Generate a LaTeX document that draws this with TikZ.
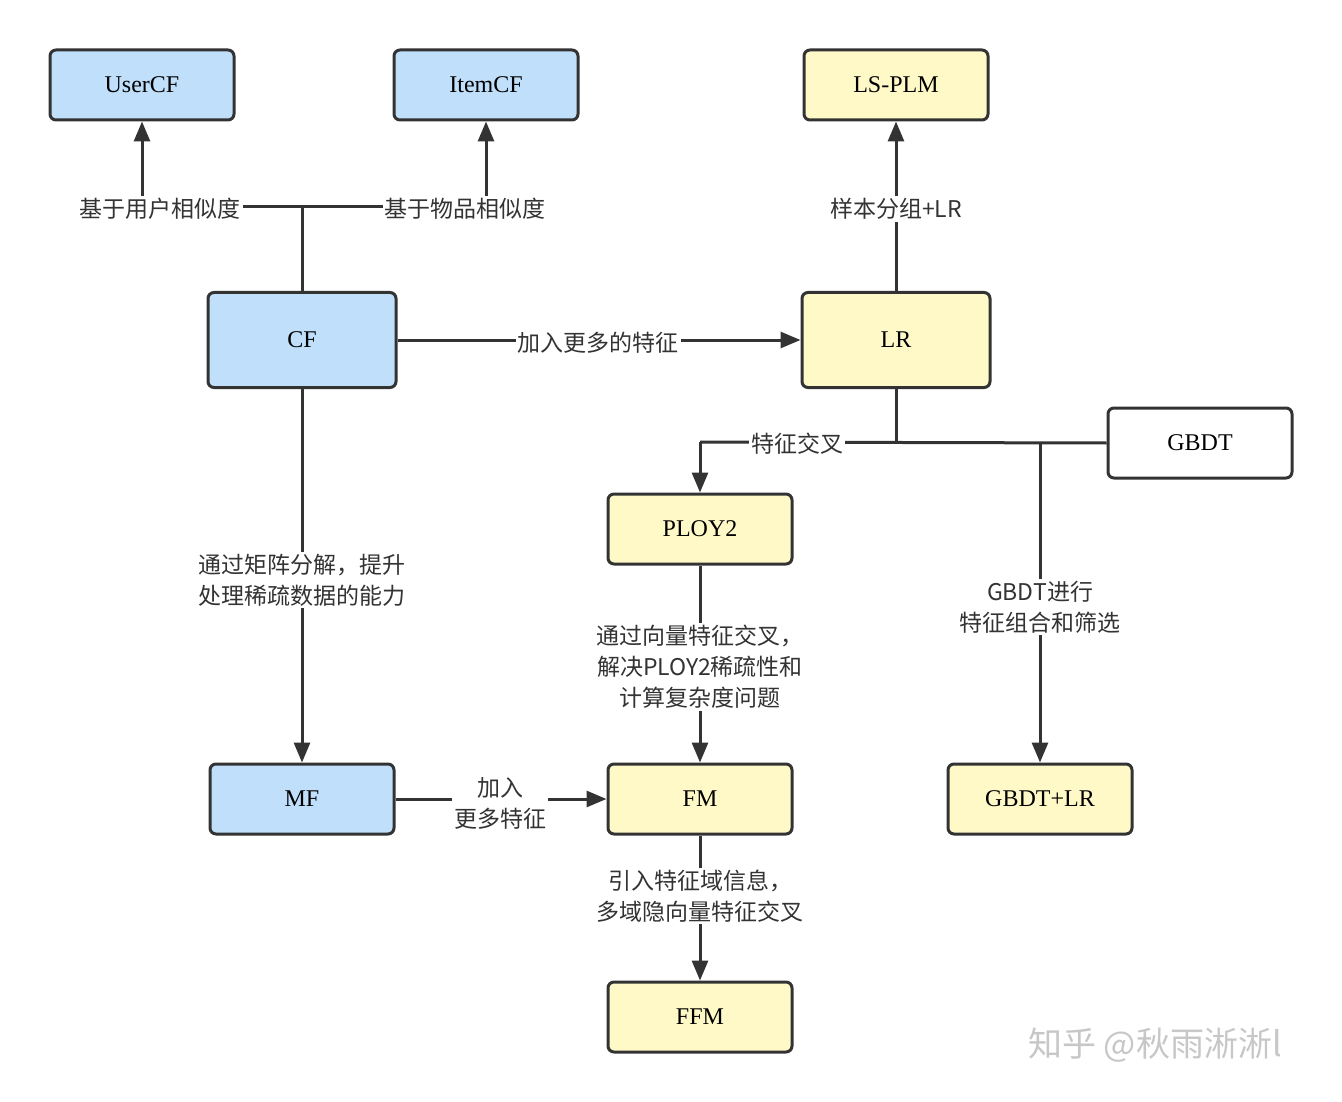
\documentclass[tikz,border=0pt]{standalone}
\usepackage{fontspec}
\setmainfont{Liberation Serif}
\newfontfamily\cjk{Noto Sans CJK SC}
\usetikzlibrary{arrows.meta}
\definecolor{bl}{RGB}{191,223,250}
\definecolor{yl}{RGB}{255,249,199}
\definecolor{ln}{RGB}{51,51,51}
\begin{document}
\begin{tikzpicture}[x=1pt,y=-1pt,
 box/.style={draw=ln,line width=3pt,rounded corners=6pt,minimum width=184pt,minimum height=70pt,font=\fontsize{24}{28}\selectfont,inner sep=0pt},
 big/.style={box,minimum width=188pt,minimum height=95pt},
 lab/.style={fill=white,font=\cjk\fontsize{23}{31}\selectfont,text=ln,align=center,inner sep=2pt},
 ar/.style={draw=ln,line width=3pt,-{Triangle[length=20pt,width=16pt]}},
 li/.style={draw=ln,line width=3pt}]
\useasboundingbox (0,0) rectangle (1342,1102);
\fill[white] (0,0) rectangle (1342,1102);
\node[box,fill=bl] (ucf) at (142,85) {UserCF};
\node[box,fill=bl] (icf) at (486,85) {ItemCF};
\node[box,fill=yl] (ls) at (896,85) {LS-PLM};
\node[big,fill=bl] (cf) at (302,340) {CF};
\node[big,fill=yl] (lr) at (896,340) {LR};
\node[box,fill=white] (gbdt) at (1200,443) {GBDT};
\node[box,fill=yl] (ploy) at (700,529) {PLOY2};
\node[box,fill=bl] (mf) at (302,799) {MF};
\node[box,fill=yl] (fm) at (700,799) {FM};
\node[box,fill=yl] (gl) at (1040,799) {GBDT+LR};
\node[box,fill=yl] (ffm) at (700,1017) {FFM};
\coordinate (j1) at (302,207);
\coordinate (jl) at (142,207);
\coordinate (jr) at (486,207);
\coordinate (j2) at (896,442);
\coordinate (jp) at (700,442);
\coordinate (jg) at (1040,442);
\path[li] (cf.north) -- (j1);
\path[li] (jl) -- (jr);
\path[ar] (jl) -- (ucf.south);
\path[ar] (jr) -- (icf.south);
\node[lab] at (160,209) {基于用户相似度};
\node[lab] at (465,209) {基于物品相似度};
\path[ar] (lr.north) -- (ls.south);
\node[lab] at (896,209) {样本分组+LR};
\path[ar] (cf.east) -- (lr.west);
\node[lab] at (598,343) {加入更多的特征};
\path[li] (lr.south) -- (j2);
\path[li] (jp) -- (gbdt.west);
\path[ar] (jp) -- (ploy.north);
\path[ar] (jg) -- (gl.north);
\node[lab] at (797,444) {特征交叉};
\node[lab] at (1040,607) {GBDT进行\\特征组合和筛选};
\path[ar] (cf.south) -- (mf.north);
\node[lab] at (302,580) {通过矩阵分解，提升\\处理稀疏数据的能力};
\path[ar] (ploy.south) -- (fm.north);
\node[lab] at (700,667) {通过向量特征交叉，\\解决PLOY2稀疏性和\\计算复杂度问题};
\path[ar] (mf.east) -- (fm.west);
\node[lab] at (500,803) {加入\\更多特征};
\path[ar] (fm.south) -- (ffm.north);
\node[lab] at (700,896) {引入特征域信息，\\多域隐向量特征交叉};
\node[font=\cjk\fontsize{34}{40}\selectfont,text=black!22] at (1155,1045) {知乎 @秋雨淅淅l};
\end{tikzpicture}
\end{document}
